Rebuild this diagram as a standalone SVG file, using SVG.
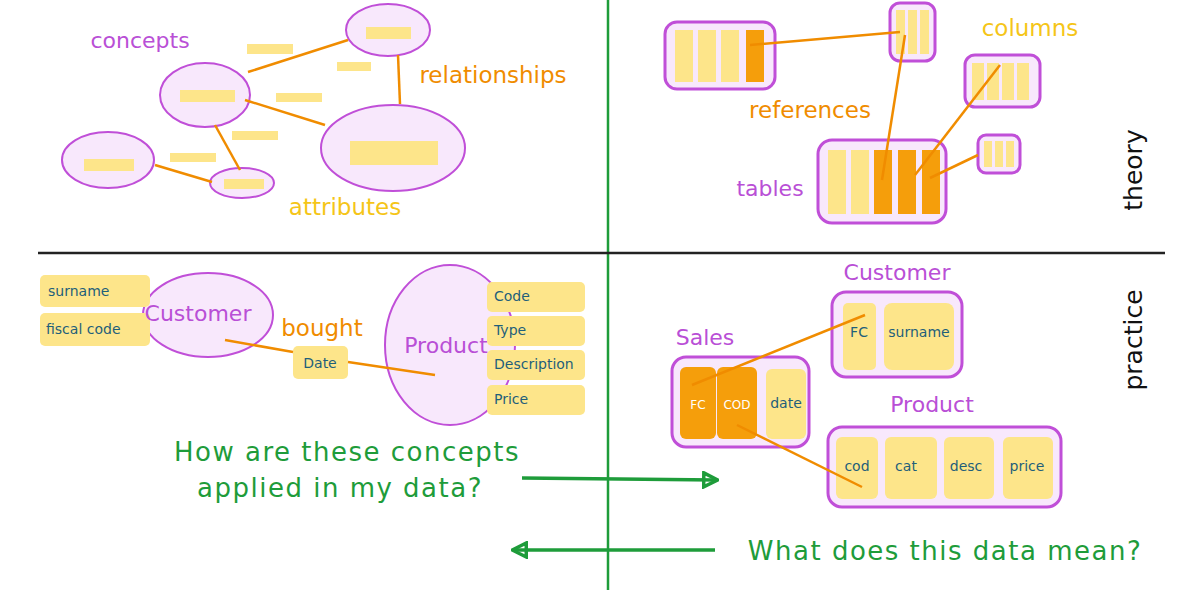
<svg xmlns="http://www.w3.org/2000/svg" width="1200" height="600" viewBox="0 0 1200 600">
<style>
text{font-family:"DejaVu Sans","Liberation Sans",sans-serif}
.e{fill:#f8e8fc;stroke:#c04fd8;stroke-width:2}
.t{fill:#f8e8fc;stroke:#c04fd8;stroke-width:3}
.y{fill:#fde58a}
.o{fill:#f59e0b}
.l{stroke:#f08c00;stroke-width:2.5;fill:none}
.p{fill:#b94fd6;font-size:22px}
.or{fill:#f08c00;font-size:23px}
.gd{fill:#f5c518;font-size:23px}
.b{fill:#1f5f7a;font-size:14px}
.g{fill:#1e9c3a;font-size:26px;letter-spacing:1.5px}
.ga{stroke:#1e9c3a;stroke-width:3.5;fill:none}
</style>
<defs><marker id="ar" viewBox="0 0 10 10" refX="8" refY="5" markerWidth="5" markerHeight="5" orient="auto-start-reverse"><path d="M1,1 L9,5 L1,9 Z" fill="none" stroke="#1e9c3a" stroke-width="2"/></marker></defs>
<g id="axes">
<line x1="608" y1="0" x2="608" y2="590" stroke="#1e9c3a" stroke-width="2.5"/>
<line x1="38" y1="253" x2="1165" y2="253" stroke="#222" stroke-width="2.5"/>
<text x="1142" y="170" transform="rotate(-90 1142 170)" text-anchor="middle" font-size="25" fill="#111">theory</text>
<text x="1142" y="340" transform="rotate(-90 1142 340)" text-anchor="middle" font-size="25" fill="#111">practice</text>
</g>
<g id="theory-er">
<ellipse class="e" cx="205" cy="95" rx="45" ry="32"/><rect class="y" x="180" y="90" width="55" height="12"/>
<ellipse class="e" cx="388" cy="30" rx="42" ry="26"/><rect class="y" x="366" y="27" width="45" height="12"/>
<ellipse class="e" cx="393" cy="148" rx="72" ry="43"/><rect class="y" x="350" y="141" width="88" height="24"/>
<ellipse class="e" cx="108" cy="160" rx="46" ry="28"/><rect class="y" x="84" y="159" width="50" height="12"/>
<ellipse class="e" cx="242" cy="183" rx="32" ry="15"/><rect class="y" x="224" y="179" width="40" height="10"/>
<rect class="y" x="247" y="44" width="46" height="10"/><rect class="y" x="337" y="62" width="34" height="9"/>
<rect class="y" x="276" y="93" width="46" height="9"/><rect class="y" x="232" y="131" width="46" height="9"/>
<rect class="y" x="170" y="153" width="46" height="9"/>
<text class="p" x="140" y="48" text-anchor="middle">concepts</text>
<text class="or" x="493" y="83" text-anchor="middle">relationships</text>
<text class="gd" x="345" y="215" text-anchor="middle">attributes</text>
</g>
<g id="theory-tables">
<rect class="t" x="665" y="22" width="110" height="67" rx="12"/>
<rect class="y" x="675" y="30" width="18" height="52"/><rect class="y" x="698" y="30" width="18" height="52"/><rect class="y" x="721" y="30" width="18" height="52"/><rect class="o" x="746" y="30" width="18" height="52"/>
<rect class="t" x="890" y="3" width="45" height="58" rx="10"/>
<rect class="y" x="896" y="10" width="9" height="44"/><rect class="y" x="908" y="10" width="9" height="44"/><rect class="y" x="920" y="10" width="9" height="44"/>
<rect class="t" x="965" y="55" width="75" height="52" rx="10"/>
<rect class="y" x="972" y="63" width="12" height="37"/><rect class="y" x="987" y="63" width="12" height="37"/><rect class="y" x="1002" y="63" width="12" height="37"/><rect class="y" x="1017" y="63" width="12" height="37"/>
<rect class="t" x="978" y="135" width="42" height="38" rx="8"/>
<rect class="y" x="984" y="141" width="8" height="26"/><rect class="y" x="995" y="141" width="8" height="26"/><rect class="y" x="1006" y="141" width="8" height="26"/>
<rect class="t" x="818" y="140" width="128" height="83" rx="14"/>
<rect class="y" x="828" y="150" width="18" height="64"/><rect class="y" x="851" y="150" width="18" height="64"/><rect class="o" x="874" y="150" width="18" height="64"/><rect class="o" x="898" y="150" width="18" height="64"/><rect class="o" x="922" y="150" width="18" height="64"/>
<text class="gd" x="1030" y="36" text-anchor="middle">columns</text>
<text class="or" x="810" y="118" text-anchor="middle">references</text>
<text class="p" x="770" y="196" text-anchor="middle">tables</text>
</g>
<g id="practice-er">
<ellipse class="e" cx="208" cy="315" rx="65" ry="42"/>
<rect class="y" x="40" y="275" width="110" height="32" rx="5"/><text class="b" x="48" y="296">surname</text>
<rect class="y" x="40" y="313" width="110" height="33" rx="5"/><text class="b" x="46" y="334">fiscal code</text>
<text class="p" x="198" y="321" text-anchor="middle" font-size="19">Customer</text>
<ellipse class="e" cx="450" cy="345" rx="65" ry="80"/>
<text class="p" x="446" y="353" text-anchor="middle" font-size="18">Product</text>
<rect class="y" x="487" y="282" width="98" height="30" rx="5"/><text class="b" x="494" y="301">Code</text>
<rect class="y" x="487" y="316" width="98" height="30" rx="5"/><text class="b" x="494" y="335">Type</text>
<rect class="y" x="487" y="350" width="98" height="30" rx="5"/><text class="b" x="494" y="369" font-size="13">Description</text>
<rect class="y" x="487" y="385" width="98" height="30" rx="5"/><text class="b" x="494" y="404">Price</text>
<rect class="y" x="293" y="346" width="55" height="33" rx="5"/><text class="b" x="320" y="368" text-anchor="middle" font-size="15">Date</text>
<text class="or" x="322" y="336" text-anchor="middle">bought</text>
</g>
<g id="practice-tables">
<text class="p" x="897" y="280" text-anchor="middle">Customer</text>
<rect class="t" x="832" y="292" width="130" height="85" rx="14"/>
<rect class="y" x="843" y="303" width="33" height="67" rx="5"/><text class="b" x="859" y="337" text-anchor="middle">FC</text>
<rect class="y" x="884" y="303" width="70" height="67" rx="8"/><text class="b" x="919" y="337" text-anchor="middle" font-size="13">surname</text>
<text class="p" x="705" y="345" text-anchor="middle">Sales</text>
<rect class="t" x="672" y="357" width="137" height="90" rx="14"/>
<rect class="o" x="680" y="367" width="36" height="72" rx="6"/><text x="698" y="409" text-anchor="middle" font-size="12" fill="#fff">FC</text>
<rect class="o" x="717" y="367" width="40" height="72" rx="6"/><text x="737" y="409" text-anchor="middle" font-size="12" fill="#fff">COD</text>
<rect class="y" x="766" y="369" width="40" height="70" rx="6"/><text class="b" x="786" y="408" text-anchor="middle" font-size="12">date</text>
<text class="p" x="932" y="412" text-anchor="middle">Product</text>
<rect class="t" x="828" y="427" width="233" height="80" rx="14"/>
<rect class="y" x="836" y="437" width="42" height="62" rx="6"/><text class="b" x="857" y="471" text-anchor="middle">cod</text>
<rect class="y" x="885" y="437" width="52" height="62" rx="6"/><text class="b" x="906" y="471" text-anchor="middle">cat</text>
<rect class="y" x="944" y="437" width="50" height="62" rx="6"/><text class="b" x="966" y="471" text-anchor="middle">desc</text>
<rect class="y" x="1003" y="437" width="50" height="62" rx="6"/><text class="b" x="1027" y="471" text-anchor="middle">price</text>
</g>
<g id="questions">
<text class="g" x="347" y="461" text-anchor="middle">How are these concepts</text>
<text class="g" x="340" y="497" text-anchor="middle">applied in my data?</text>
<text class="g" x="945" y="560" text-anchor="middle">What does this data mean?</text>
</g>
<g id="connectors">
<line class="l" x1="248" y1="72" x2="348" y2="40"/>
<line class="l" x1="245" y1="100" x2="325" y2="125" stroke-width="3.5"/>
<line class="l" x1="215" y1="125" x2="240" y2="170"/>
<line class="l" x1="155" y1="165" x2="212" y2="182"/>
<line class="l" x1="398" y1="55" x2="400" y2="104"/>
<line class="l" x1="750" y1="45" x2="900" y2="32"/>
<line class="l" x1="905" y1="35" x2="882" y2="180"/>
<line class="l" x1="1000" y1="65" x2="915" y2="175"/>
<line class="l" x1="978" y1="155" x2="930" y2="178"/>
<line class="l" x1="225" y1="340" x2="293" y2="352" stroke-width="4"/>
<line class="l" x1="348" y1="362" x2="435" y2="375" stroke-width="4"/>
<line class="l" x1="692" y1="385" x2="865" y2="315"/>
<line class="l" x1="737" y1="425" x2="862" y2="487"/>
<line class="ga" x1="522" y1="478" x2="716" y2="480" marker-end="url(#ar)"/>
<line class="ga" x1="715" y1="550" x2="514" y2="550" marker-end="url(#ar)"/>
</g>
</svg>
